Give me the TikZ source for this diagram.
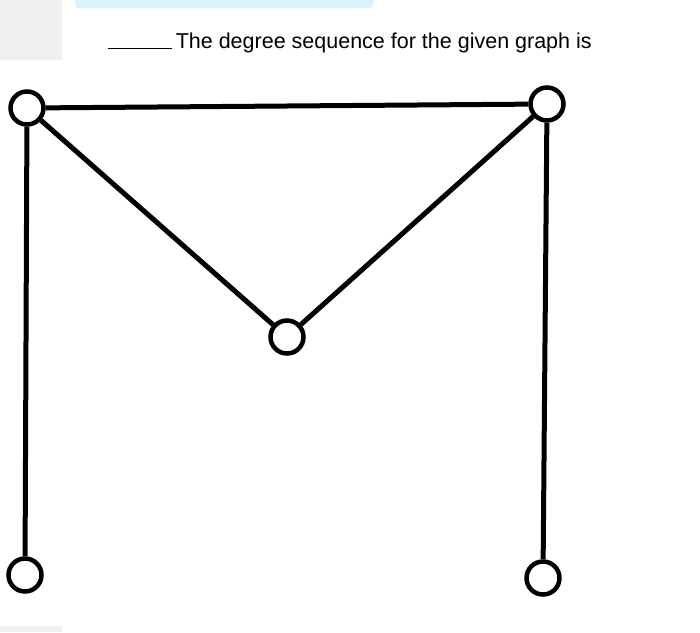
\documentclass[tikz,border=0pt]{standalone}
\usepackage{fontspec}
\setmainfont{Liberation Sans}
\begin{document}
\begin{tikzpicture}[x=1pt,y=-1pt,
  vert/.style={circle,draw=black,fill=white,line width=4.5pt,minimum size=33pt,inner sep=0pt},
  edge/.style={line width=5pt}]
\useasboundingbox (0,0) rectangle (700,632);
\fill[gray!12] (0,0) rectangle (62,60);
\fill[gray!12] (0,626) rectangle (62,632);
\fill[cyan!15,rounded corners=3pt] (75,-5) rectangle (373,8);
\node[anchor=base west,font=\fontsize{21.5}{24}\selectfont,inner sep=0pt] (t) at (108,48) {\rule[-1pt]{64pt}{1pt}\,The degree sequence for the given graph is};
\node[vert] (a) at (27,108) {};
\node[vert] (b) at (547,104) {};
\node[vert] (c) at (287,337) {};
\node[vert] (d) at (25,575) {};
\node[vert] (e) at (543,578) {};
\draw[edge] (a) -- (b);
\draw[edge] (a) -- (c);
\draw[edge] (b) -- (c);
\draw[edge] (a) -- (d);
\draw[edge] (b) -- (e);
\end{tikzpicture}
\end{document}
